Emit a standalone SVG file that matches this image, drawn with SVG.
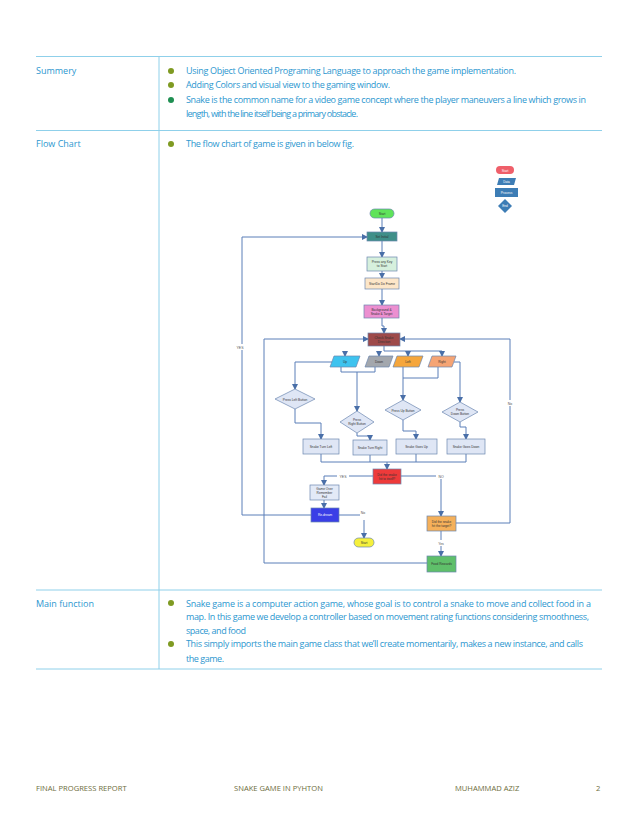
<svg xmlns="http://www.w3.org/2000/svg" width="638" height="826" viewBox="0 0 638 826">
<defs>
<style>
.t{font-family:"Open Sans","Liberation Sans",sans-serif;font-size:9px;fill:#2c97cf}
.f{font-family:"Open Sans","Liberation Sans",sans-serif;font-size:7.6px;fill:#6d6d3c}
.rule{stroke:#8fd0ea;stroke-width:1}
.c{fill:none;stroke:#5a7fb8;stroke-width:1}
.a{fill:none;stroke:#5a7fb8;stroke-width:1;marker-end:url(#ar)}
.n{stroke:#6c87b0;stroke-width:0.7}
.s{font-family:"Liberation Sans",sans-serif;font-size:3.2px;fill:#333;text-anchor:middle}
.sw{font-family:"Liberation Sans",sans-serif;font-size:3.2px;fill:#fff;text-anchor:middle}
.l{font-family:"Liberation Sans",sans-serif;font-size:3.5px;fill:#555;text-anchor:middle}
</style>
<marker id="ar" markerWidth="6" markerHeight="6" refX="5" refY="3" orient="auto" markerUnits="userSpaceOnUse"><path d="M0,0 L6,3 L0,6 z" fill="#4a6fa8"/></marker>
</defs>
<rect width="638" height="826" fill="#fff"/>
<g id="page">
<line class="rule" x1="36" y1="56.5" x2="602" y2="56.5"/>
<line class="rule" x1="36" y1="130.5" x2="602" y2="130.5"/>
<line class="rule" x1="36" y1="590" x2="602" y2="590"/>
<line class="rule" x1="36" y1="669" x2="602" y2="669"/>
<line class="rule" x1="159" y1="56.5" x2="159" y2="669"/>
<text class="t" x="36" y="74">Summery</text>
<text class="t" x="36" y="147">Flow Chart</text>
<text class="t" x="36" y="607">Main function</text>
<g fill="#7f9a22"><circle cx="171" cy="71" r="3"/><circle cx="171" cy="85" r="3"/><circle cx="171" cy="144" r="3"/><circle cx="171" cy="603" r="3"/><circle cx="171" cy="644" r="3"/></g>
<circle cx="171" cy="100" r="3" fill="#1f8f52"/>
<text class="t" x="186" y="74" textLength="330">Using Object Oriented Programing Language to approach the game implementation.</text>
<text class="t" x="186" y="88" textLength="204">Adding Colors and visual view to the gaming window.</text>
<text class="t" x="186" y="103" textLength="400">Snake is the common name for a video game concept where the player maneuvers a line which grows in</text>
<text class="t" x="186" y="117" textLength="172">length, with the line itself being a primary obstacle.</text>
<text class="t" x="186" y="147" textLength="168">The flow chart of game is given in below fig.</text>
<text class="t" x="186" y="607" textLength="405">Snake game is a computer action game, whose goal is to control a snake to move and collect food in a</text>
<text class="t" x="186" y="620" textLength="403">map. In this game we develop a controller based on movement rating functions considering smoothness,</text>
<text class="t" x="186" y="634" textLength="60">space, and food</text>
<text class="t" x="186" y="647" textLength="397">This simply imports the main game class that we’ll create momentarily, makes a new instance, and calls</text>
<text class="t" x="186" y="662" textLength="38">the game.</text>
<text class="f" x="36" y="791">FINAL PROGRESS REPORT</text>
<text class="f" x="234" y="791">SNAKE GAME IN PYHTON</text>
<text class="f" x="455" y="791">MUHAMMAD AZIZ</text>
<text class="f" x="596" y="791">2</text>
</g>
<g id="legend">
<rect x="496" y="166" width="18" height="8" rx="4" fill="#ef5f6a"/><text class="sw" x="505" y="171.5">Start</text>
<polygon points="497,185 499,178 516,178 514,185" fill="#3d7db5"/><text class="sw" x="506.5" y="183">Data</text>
<rect x="495" y="188" width="23" height="9" fill="#3d7db5"/><text class="sw" x="506.5" y="193.5">Process</text>
<polygon points="505,199 512,206 505,213 498,206" fill="#3d7db5"/><text class="sw" x="505" y="207">End</text>
</g>
<g id="connectors">
<path class="a" d="M382,218 V232"/>
<path class="a" d="M382,241 V257"/>
<path class="a" d="M382,271 V278"/>
<path class="a" d="M382,289 V305"/>
<path class="a" d="M382,318 V326 H384 V333"/>
<path class="c" d="M384,346 V351 H442"/>
<path class="a" d="M345,351 V356"/><path class="a" d="M379,351 V356"/><path class="a" d="M408,351 V356"/><path class="a" d="M442,351 V356"/>
<path class="a" d="M332,362 H295 V389"/>
<path class="c" d="M341,367 V372 H375 V367"/><path class="a" d="M357,372 V411"/>
<path class="c" d="M403,367 V378 H438 V367"/><path class="a" d="M403,378 V400"/>
<path class="a" d="M454,362 H460 V402"/>
<path class="a" d="M295,409 V423 H321 V439"/>
<path class="a" d="M357,433 V436 H370 V440"/>
<path class="a" d="M403,420 V431 H416 V439"/>
<path class="a" d="M460,422 V427 H466 V439"/>
<path class="c" d="M321,454 V462 H466 V454 M370,455 V462 M416,454 V462"/>
<path class="a" d="M387,462 V469"/>
<path class="a" d="M373,476 H324 V485"/>
<path class="a" d="M401,476 H441 V516"/>
<path class="a" d="M324,500 V508"/>
<path class="c" d="M339,515 H360"/>
<path class="a" d="M364,520 V538"/>
<path class="a" d="M441,531 V556"/>
<path class="a" d="M311,515 H242 V237 H367"/>
<path class="a" d="M427,563 H264 V339 H368"/>
<path class="a" d="M456,523 H510 V339 H400"/>
</g>
<g id="labels">
<rect x="337" y="473" width="12" height="6" fill="#fff"/><text class="l" x="343" y="477.5">YES</text>
<rect x="436" y="473" width="10" height="6" fill="#fff"/><text class="l" x="441" y="477.5">NO</text>
<text class="l" x="363" y="514">No</text>
<rect x="436" y="540" width="10" height="6" fill="#fff"/><text class="l" x="441" y="544.5">Yes</text>
<rect x="236" y="344" width="10" height="6" fill="#fff"/><text class="l" x="240" y="348.5">YES</text>
<rect x="505" y="400" width="10" height="6" fill="#fff"/><text class="l" x="510" y="404.5">No</text>
</g>
<g id="n-start"><rect x="370" y="209" width="24" height="9" rx="4.5" fill="#5fe35a" class="n"/><text class="s" x="382" y="214.5">Start</text></g>
<g id="n-init"><rect x="367" y="232" width="30" height="9" fill="#3f8f89" class="n"/><text class="s" x="382" y="237.5">Set Initial</text></g>
<g id="n-press"><rect x="367" y="257" width="30" height="14" fill="#d6f0dd" class="n"/><text class="s" x="382" y="263">Press any Key</text><text class="s" x="382" y="267">to Start</text></g>
<g id="n-frame"><rect x="365" y="278" width="34" height="11" fill="#fde6c8" class="n"/><text class="s" x="382" y="284.5">StartDo Do Frame</text></g>
<g id="n-bg"><rect x="364" y="305" width="35" height="13" fill="#ec8fd0" class="n"/><text class="s" x="381.5" y="310.5">Background &amp;</text><text class="s" x="381.5" y="314.5">Snake &amp; Target</text></g>
<g id="n-check"><rect x="368" y="333" width="32" height="13" fill="#9e4a4a" class="n"/><text class="s" x="384" y="338.5">Check Snake</text><text class="s" x="384" y="342.5">Direction</text></g>
<g id="n-up"><polygon points="330,367 334,356 360,356 356,367" fill="#3ec3ef" class="n"/><text class="s" x="345" y="363">Up</text></g>
<g id="n-down"><polygon points="365,367 369,356 393,356 389,367" fill="#a3a7ad" class="n"/><text class="s" x="379" y="363">Down</text></g>
<g id="n-left"><polygon points="393,367 397,356 423,356 419,367" fill="#f5a63c" class="n"/><text class="s" x="408" y="363">Left</text></g>
<g id="n-right"><polygon points="428,367 432,356 456,356 452,367" fill="#f5a474" class="n"/><text class="s" x="442" y="363">Right</text></g>
<g id="d-left"><polygon points="295,389 315,399 295,409 275,399" fill="#dfe6f5" class="n"/><text class="s" x="295" y="400.5">Press Left  Button</text></g>
<g id="d-right"><polygon points="357,411 374,422 357,433 340,422" fill="#dfe6f5" class="n"/><text class="s" x="357" y="420.5">Press</text><text class="s" x="357" y="424.5">Right  Button</text></g>
<g id="d-up"><polygon points="403,400 421,410 403,420 385,410" fill="#dfe6f5" class="n"/><text class="s" x="403" y="411.5">Press Up  Button</text></g>
<g id="d-down"><polygon points="460,402 478,412 460,422 442,412" fill="#dfe6f5" class="n"/><text class="s" x="460" y="410.5">Press</text><text class="s" x="460" y="414.5">Down  Button</text></g>
<g id="r-left"><rect x="303" y="439" width="36" height="15" fill="#dfe6f5" class="n"/><text class="s" x="321" y="447.5">Snake Turn Left</text></g>
<g id="r-right"><rect x="353" y="440" width="34" height="15" fill="#dfe6f5" class="n"/><text class="s" x="370" y="448.5">Snake Turn Right</text></g>
<g id="r-up"><rect x="396" y="439" width="41" height="15" fill="#dfe6f5" class="n"/><text class="s" x="416.5" y="447.5">Snake Goes Up</text></g>
<g id="r-down"><rect x="447" y="439" width="38" height="15" fill="#dfe6f5" class="n"/><text class="s" x="466" y="447.5">Snake Goes Down</text></g>
<g id="n-hitself"><rect x="373" y="469" width="28" height="15" fill="#ee3a3a" class="n"/><text class="s" x="387" y="475.5">Did the snake</text><text class="s" x="387" y="479.5">hit to itself?</text></g>
<g id="n-over"><rect x="310" y="485" width="29" height="15" fill="#e3eaf7" class="n"/><text class="s" x="324.5" y="489.5">Game Over</text><text class="s" x="324.5" y="493.5">Remember</text><text class="s" x="324.5" y="497.5">Fail</text></g>
<g id="n-redream"><rect x="311" y="508" width="28" height="14" fill="#3a3ee6" class="n"/><text class="sw" x="325" y="516">Re-dream</text></g>
<g id="n-end"><rect x="354" y="538" width="20" height="9" rx="4.5" fill="#f5f03c" class="n"/><text class="s" x="364" y="543.5">Start</text></g>
<g id="n-target"><rect x="427" y="516" width="29" height="15" fill="#f5b05a" class="n"/><text class="s" x="441.5" y="522.5">Did the snake</text><text class="s" x="441.5" y="526.5">hit the target?</text></g>
<g id="n-food"><rect x="427" y="556" width="29" height="16" fill="#5fbf6a" class="n"/><text class="s" x="441.5" y="565">Food Rewards</text></g>
</svg>
